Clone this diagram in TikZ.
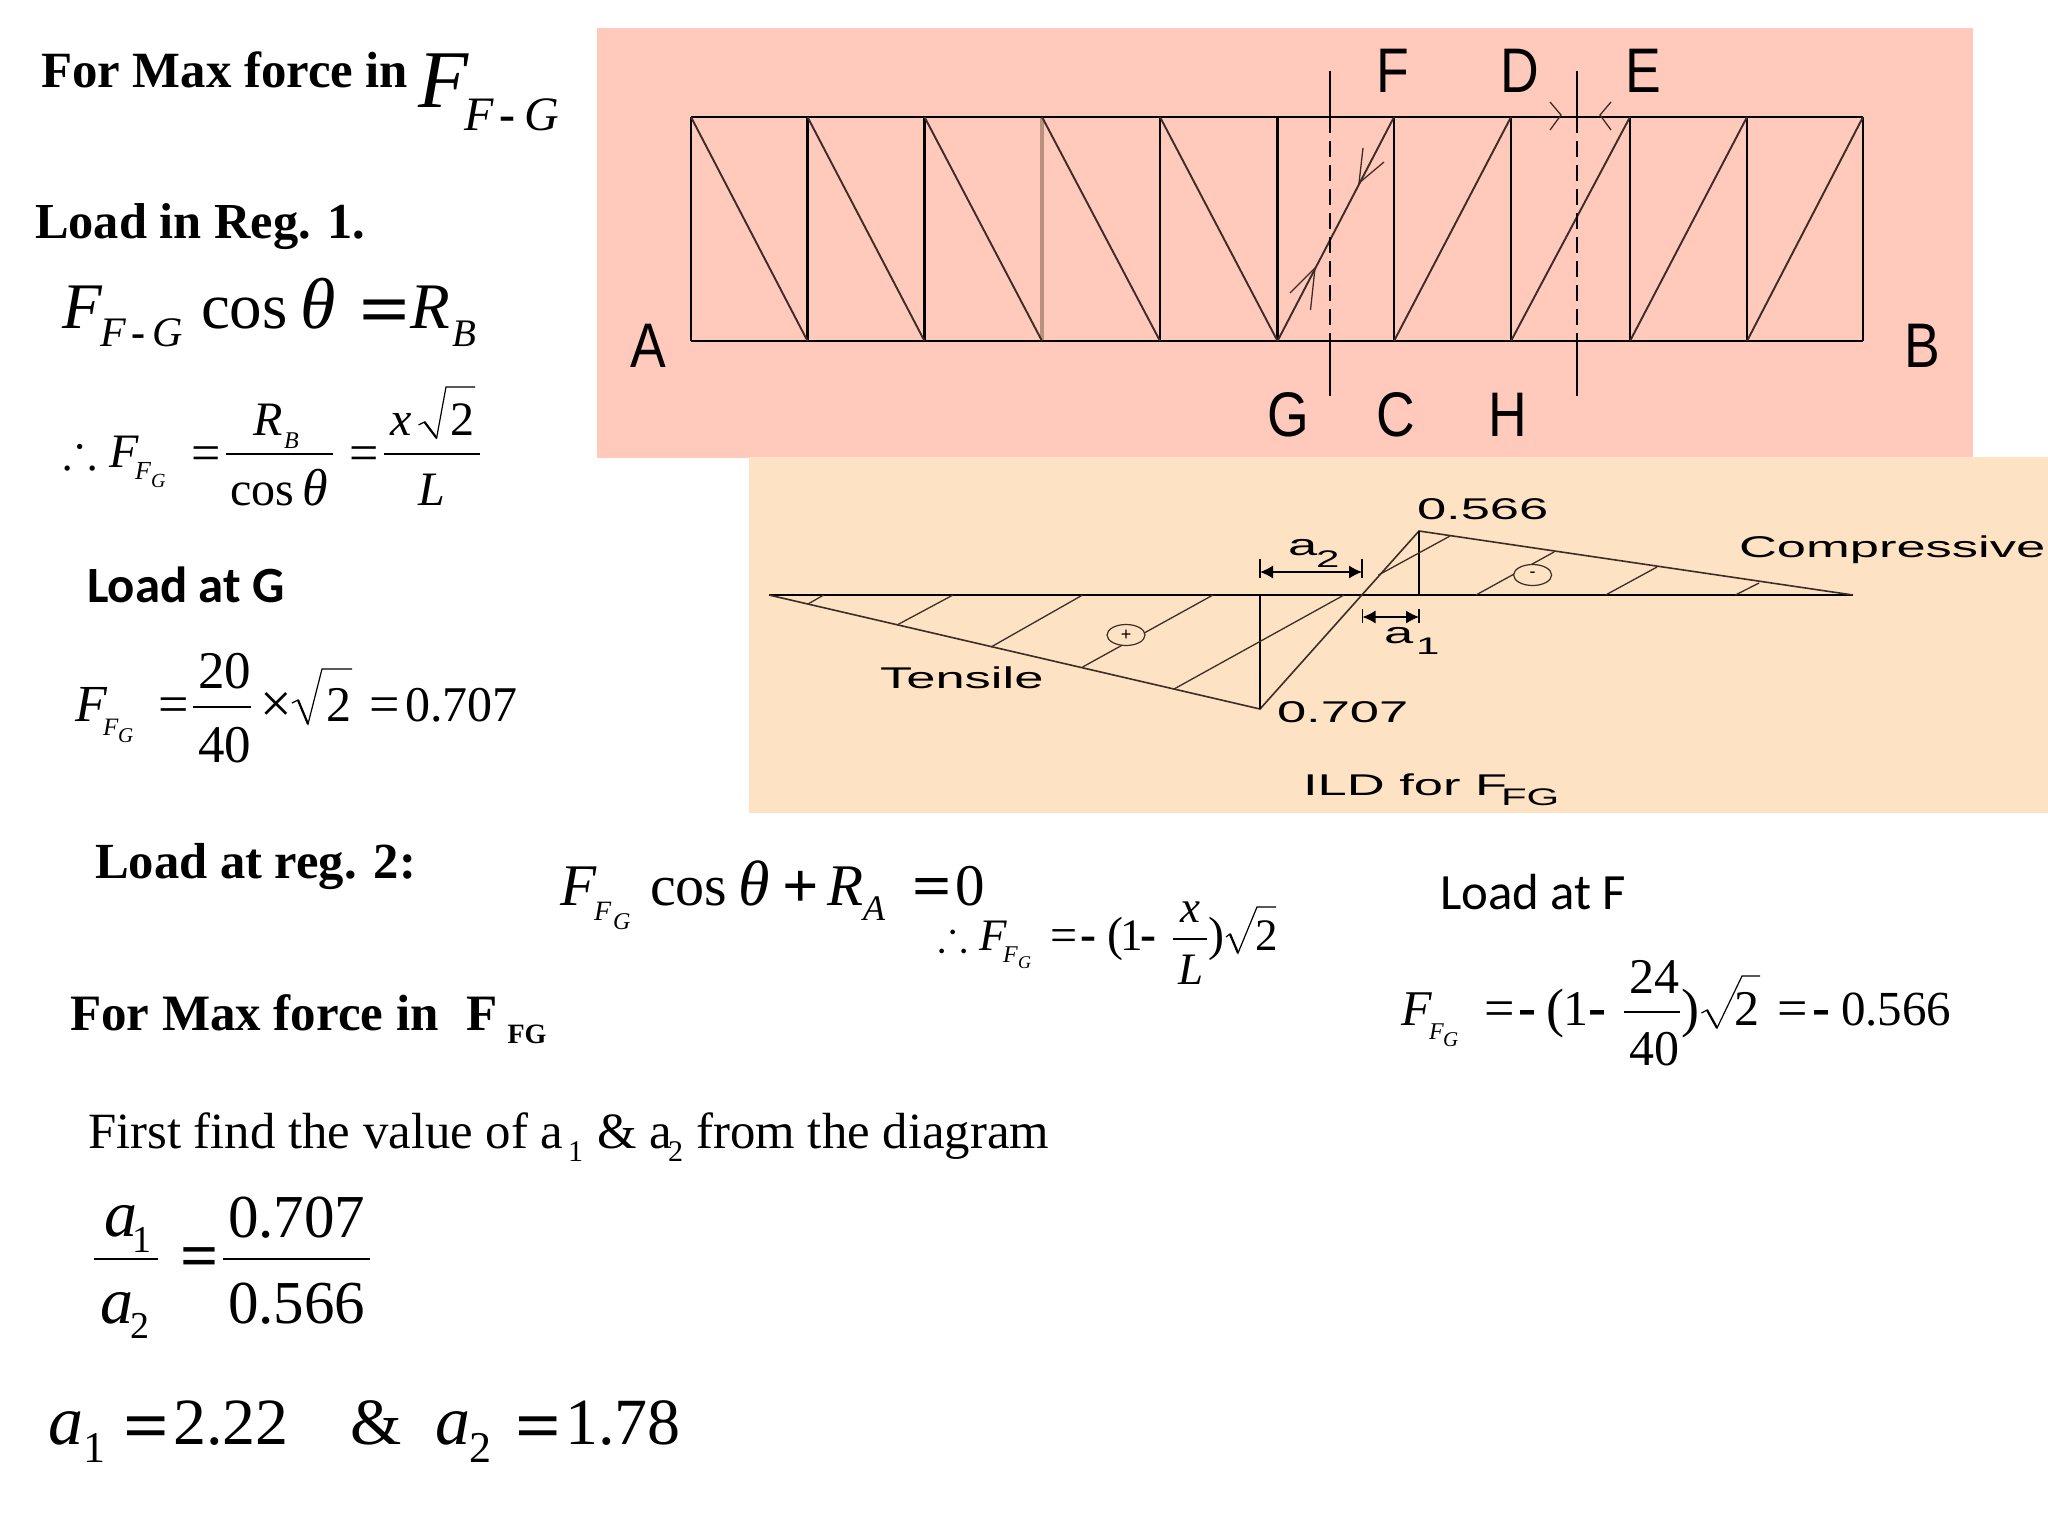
\documentclass[tikz,border=0pt]{standalone}
\usepackage{fontspec}
\usepackage{amssymb}
\setmainfont{Liberation Serif}
\newfontfamily\arialf{Liberation Sans}
\newfontfamily\califf{Carlito}
\usetikzlibrary{arrows.meta,shapes.geometric}
\definecolor{salmonbg}{RGB}{255,201,187}
\definecolor{beigebg}{RGB}{253,226,195}
\definecolor{diagline}{RGB}{60,45,40}
\definecolor{greybar}{RGB}{184,144,126}
\tikzset{
  base/.style={anchor=base west,inner sep=0pt,outer sep=0pt},
  rm/.style={base,font=\fontsize{#1pt}{#1pt}\selectfont},
  it/.style={base,font=\fontsize{#1pt}{#1pt}\selectfont\itshape},
  bf/.style={base,font=\fontsize{#1pt}{#1pt}\selectfont\bfseries},
  cal/.style={base,font=\fontsize{#1pt}{#1pt}\selectfont\califf},
  calb/.style={base,font=\fontsize{#1pt}{#1pt}\selectfont\califf\bfseries},
  letter/.style={base,font=\fontsize{31.5pt}{32pt}\selectfont\arialf},
  ildtext/.style={base,font=\fontsize{15pt}{15pt}\selectfont\arialf},
  ildsub/.style={base,font=\fontsize{12pt}{12pt}\selectfont\arialf},
  chord/.style={line width=1.4pt,black},
  post/.style={line width=1.1pt,black},
  diag/.style={line width=.95pt,diagline},
  cutline/.style={line width=.8pt,black},
  barb/.style={line width=.65pt,diagline},
  ildline/.style={line width=.8pt,diagline},
  ildpost/.style={line width=1pt,black},
  hatch/.style={line width=.65pt,diagline},
  dimline/.style={line width=.6pt,black,{Latex[length=6.5pt,width=6.5pt]}-{Latex[length=6.5pt,width=6.5pt]}},
  dimtick/.style={line width=.8pt,black},
  signmark/.style={ellipse,draw=diagline,line width=.6pt,fill=beigebg,minimum width=19pt,minimum height=10.5pt,inner sep=0pt,font=\fontsize{9pt}{9pt}\selectfont\arialf},
  fracbar/.style={line width=.8pt,black},
  surdline/.style={line width=.6pt,black,line join=miter},
  surdthick/.style={line width=1.1pt,black},
}
\newcommand{\ildw}[1]{\scalebox{1.75}[1]{#1}}
\newcommand{\narrow}[1]{\scalebox{.85}[1]{#1}}
\newcommand{\wideq}[1]{\scalebox{#1}[1]{=}}
\newcommand{\fmg}{\textit{F}\hspace{.12em}\textbf{-}\hspace{.18em}\textit{G}}
\newcommand{\radic}[5]{\draw[surdline] (#1) -- (#2) -- (#3) -- (#4) -- (#5); \draw[surdthick] (#2) -- (#3);}
\begin{document}
\begin{tikzpicture}[x=.5pt,y=-.5pt]
\useasboundingbox (0,0) rectangle (2048,1536);
\fill[white] (0,0) rectangle (2048,1536);
\fill[salmonbg] (597,28) rectangle (1973,458);
\fill[beigebg] (749,457) rectangle (2048,813);

% ---- truss
\foreach \i/\x in {0/691,1/807.5,2/924.5,3/1042,4/1160,5/1277.5,6/1394,7/1511,8/1630,9/1747,10/1863}{
  \coordinate (T\i) at (\x,117);
  \coordinate (B\i) at (\x,341);
}
\foreach \i in {0,1,2,4,5,6,7,8,9,10}{\draw[post] (T\i) -- (B\i);}
\draw[line width=1.6pt,greybar] (T3) -- (B3);
\draw[chord] (T0) -- (T10);
\draw[chord] (B0) -- (B10);
\foreach \a/\b in {0/1,1/2,2/3,3/4,4/5}{\draw[diag] (T\a) -- (B\b);}
\foreach \a/\b in {5/6,6/7,7/8,8/9,9/10}{\draw[diag] (B\a) -- (T\b);}
% sections
\coordinate (c1t) at (1330,71); \coordinate (c1a) at (1330,117);
\coordinate (c1b) at (1330,341); \coordinate (c1e) at (1330,396);
\coordinate (c2t) at (1577,71); \coordinate (c2a) at (1577,117);
\coordinate (c2b) at (1577,341); \coordinate (c2e) at (1577,396);
\draw[cutline] (c1t) -- (c1a);
\draw[cutline] (c1b) -- (c1e);
\draw[cutline,dash pattern=on 8pt off 4pt] (c1a) -- (c1b);
\draw[cutline] (c2t) -- (c2a);
\draw[cutline] (c2b) -- (c2e);
\draw[cutline,dash pattern=on 8pt off 4pt] (c2a) -- (c2b);
% member arrows
\coordinate (p1) at (1315,268); \coordinate (p1a) at (1290,293); \coordinate (p1b) at (1310.5,310);
\coordinate (p2) at (1359,183); \coordinate (p2a) at (1363,148); \coordinate (p2b) at (1384,162);
\coordinate (p3) at (1561,115); \coordinate (p3a) at (1550,102); \coordinate (p3b) at (1550,130);
\coordinate (p4) at (1600,115); \coordinate (p4a) at (1611,102); \coordinate (p4b) at (1611,130);
\draw[barb] (p1a) -- (p1) -- (p1b);
\draw[barb] (p2a) -- (p2) -- (p2b);
\draw[barb] (p3a) -- (p3) -- (p3b);
\draw[barb] (p4a) -- (p4) -- (p4b);
% truss letters
\node[letter] (la) at (630,367) {\narrow{A}};
\node[letter] (lb) at (1904,367) {\narrow{B}};
\node[letter] (lf) at (1376,92) {\narrow{F}};
\node[letter] (ld) at (1500,92) {\narrow{D}};
\node[letter] (le) at (1625,92) {\narrow{E}};
\node[letter] (lg) at (1267,436) {\narrow{G}};
\node[letter] (lc) at (1376,436) {\narrow{C}};
\node[letter] (lh) at (1488,436) {\narrow{H}};

% ---- ILD
\coordinate (i0) at (769,595); \coordinate (i1) at (1853,595);
\coordinate (low) at (1260,709); \coordinate (lowb) at (1260,595);
\coordinate (up) at (1419,531); \coordinate (upb) at (1419,595);
\draw[line width=.6pt,black] (i0) -- (i1);
\draw[ildline] (i0) -- (low) -- (up) -- (i1);
\draw[ildpost] (lowb) -- (low);
\draw[ildpost] (upb) -- (up);
\foreach \ax/\ay/\bx/\by in {823.7/595/808/604, 953/595/897/625, 1082.6/595/991/647, 1213/595/1082.6/667, 1344/595/1174/689, 1378.5/575/1450/536, 1476/595/1554/552, 1605.6/595/1657/567, 1735.4/595/1759/583}{
  \draw[hatch] (\ax,\ay) -- (\bx,\by);
}
\node[signmark] (plus) at (1126,635) {+};
\node[signmark] (minus) at (1532.6,575) {-};
% dimensions
\coordinate (a2l) at (1260,572); \coordinate (a2r) at (1362,572);
\coordinate (a1l) at (1362.5,617); \coordinate (a1r) at (1419,617);
\draw[dimline] (a2l) -- (a2r);
\draw[dimline] (a1l) -- (a1r);
\draw[dimtick] (1260,559) -- (1260,578);
\draw[dimtick] (1362,559) -- (1362,578);
\draw[dimtick] (1362.5,609) -- (1362.5,623);
\draw[dimtick] (1419,609) -- (1419,623);
\node[ildtext] (v566) at (1417,519) {\ildw{0.566}};
\node[ildtext] (v707) at (1277,722) {\ildw{0.707}};
\node[ildtext] (tens) at (880,688) {\ildw{Tensile}};
\node[ildtext] (comp) at (1739,557) {\ildw{Compressive}};
\node[ildtext] (a2a) at (1288,555) {\ildw{a}};
\node[ildsub] (a2s) at (1316,567) {\ildw{2}};
\node[ildtext] (a1a) at (1384,643) {\ildw{a}};
\node[ildsub] (a1s) at (1416,654) {\ildw{1}};
\node[ildtext] (ild) at (1303,795) {\ildw{ILD for F}};
\node[ildsub] (ilds) at (1501,805) {\ildw{FG}};

% ---- heading block
\node[bf=25.4] (h1) at (41,88) {For Max force in};
\node[it=41] (h1f) at (418,108) {F};
\node[rm=24] (h1s) at (464,130) {\fmg};
\node[bf=25.2] (h2) at (35,238) {Load in Reg. 1.};
% F cos theta = R_B
\node[it=32.5] (e1f) at (62,328) {F};
\node[rm=21] (e1s) at (100,346) {\fmg};
\node[rm=32.5] (e1c) at (201,328) {cos};
\node[it=36] (e1t) at (300,328) {θ};
\node[bf=37] (e1e) at (359,334) {\wideq{1.2}};
\node[it=32.5] (e1r) at (410,328) {R};
\node[it=19.5] (e1b) at (452,346) {B};
% therefore F_FG = R_B/cos = x sqrt2 / L
\node[rm=25] (e2th) at (63,467) {$\therefore$};
\node[it=24] (e2f) at (109,467) {F};
\node[it=13] (e2s) at (135,479) {F};
\node[it=10] (e2g) at (151,487) {G};
\node[rm=26] (e2e) at (191,470) {=};
\coordinate (e2b1) at (226,454); \coordinate (e2b2) at (333,454);
\draw[fracbar] (e2b1) -- (e2b2);
\node[it=24] (e2r) at (253,435) {R};
\node[it=12] (e2rb) at (284,448) {B};
\node[rm=24] (e2c) at (230,505) {cos};
\node[it=26] (e2t) at (302,505) {θ};
\node[rm=26] (e2e2) at (349,470) {=};
\coordinate (e2b3) at (384,454); \coordinate (e2b4) at (480,454);
\draw[fracbar] (e2b3) -- (e2b4);
\node[it=24] (e2x) at (390,435) {x};
\radic{418.5,425}{424.5,422}{436.6,438}{446,387}{475,387}
\node[rm=24] (e2two) at (450,435) {2};
\node[it=24] (e2l) at (418,505) {L};
% Load at G
\node[calb=25.4] (h3) at (87,602) {Load at G};
\node[it=26] (e3f) at (75,721) {F};
\node[it=12.5] (e3s) at (103,735) {F};
\node[it=10.5] (e3g) at (118,742) {G};
\node[rm=27] (e3e) at (158,722) {=};
\coordinate (e3b1) at (193,707); \coordinate (e3b2) at (251,707);
\draw[fracbar] (e3b1) -- (e3b2);
\node[rm=26.5] (e3n) at (198,688) {20};
\node[rm=26.5] (e3d) at (198,762) {40};
\node[rm=28] (e3x) at (260,722) {×};
\radic{292,703}{298,700}{308,724}{322,669}{352,669}
\node[rm=25] (e3two) at (326,721) {2};
\node[rm=27] (e3e2) at (369,722) {=};
\node[rm=25] (e3v) at (405,721) {0.707};
% Load at reg 2
\node[bf=25.3] (h4) at (95,878) {Load at reg. 2:};
\node[it=29.5] (e4f) at (560,905) {F};
\node[it=14] (e4s) at (594,920) {F};
\node[it=12] (e4g) at (613,929) {G};
\node[rm=29] (e4c) at (650,905) {cos};
\node[it=32] (e4t) at (738,905) {θ};
\node[bf=32] (e4p) at (782,907) {+};
\node[it=29.5] (e4r) at (827,905) {R};
\node[it=18] (e4a) at (863,920) {A};
\node[bf=30] (e4e) at (912,906) {\wideq{1.15}};
\node[rm=29.5] (e4z) at (955,905) {0};
% therefore line
\node[rm=22] (e5th) at (938,950) {$\therefore$};
\node[it=22.5] (e5f) at (979,950) {F};
\node[it=12] (e5s) at (1003,962) {F};
\node[it=9] (e5g) at (1018,968) {G};
\node[rm=24] (e5e) at (1050,951) {=};
\node[bf=24] (e5m) at (1080,950) {-};
\node[rm=24] (e5o) at (1107,950) {(};
\node[rm=22.5] (e5one) at (1120,950) {1};
\node[bf=24] (e5m2) at (1140,950) {-};
\coordinate (e5b1) at (1173,939); \coordinate (e5b2) at (1207,939);
\draw[fracbar] (e5b1) -- (e5b2);
\node[it=22.5] (e5x) at (1180,922) {x};
\node[it=22.5] (e5l) at (1178,984) {L};
\node[rm=24] (e5c) at (1208,950) {)};
\radic{1226,937}{1230,934}{1238,953}{1257,907}{1276,907}
\node[rm=22.5] (e5two) at (1255,950) {2};
% Load at F
\node[cal=25.4] (h5) at (1440,909) {Load at F};
\node[it=25] (e6f) at (1401,1025) {F};
\node[it=12] (e6s) at (1429,1039) {F};
\node[it=10.5] (e6g) at (1443,1046) {G};
\node[rm=27] (e6e) at (1484,1026) {=};
\node[bf=27] (e6m) at (1518,1025) {-};
\node[rm=27] (e6o) at (1546,1026) {(};
\node[rm=25] (e6one) at (1563,1025) {1};
\node[bf=27] (e6m2) at (1588,1025) {-};
\coordinate (e6b1) at (1624,1012); \coordinate (e6b2) at (1680,1012);
\draw[fracbar] (e6b1) -- (e6b2);
\node[rm=25] (e6n) at (1629,993) {24};
\node[rm=25] (e6d) at (1629,1065) {40};
\node[rm=27] (e6c) at (1681,1026) {)};
\radic{1701.5,1013}{1707,1010}{1717,1028}{1742,976}{1760,976}
\node[rm=25] (e6two) at (1734,1025) {2};
\node[rm=27] (e6e2) at (1777,1026) {=};
\node[bf=27] (e6m3) at (1812,1025) {-};
\node[rm=24.5] (e6v) at (1841,1025) {0.566};
% For Max force in F_FG
\node[bf=25.5] (h6) at (70,1030) {For Max force in};
\node[bf=25.5] (h6f) at (466,1030) {F};
\node[bf=14] (h6s) at (507.5,1043) {FG};
% First find
\node[rm=25.4] (h7) at (88,1148) {First find the value of a};
\node[rm=15] (h7a) at (568,1161) {1};
\node[rm=25.4] (h7b) at (597,1148) {\&};
\node[rm=25.4] (h7c) at (649,1148) {a};
\node[rm=15] (h7d) at (668,1161) {2};
\node[rm=25.4] (h7e) at (696.5,1148) {from the diagram};
% a1/a2
\coordinate (e7b1) at (94,1259); \coordinate (e7b2) at (158,1259);
\draw[line width=1pt,black] (e7b1) -- (e7b2);
\node[it=33] (e7a) at (104,1236) {a};
\node[rm=19] (e7s) at (132,1252) {1};
\node[it=33] (e7c) at (100,1323) {a};
\node[rm=19] (e7t) at (130,1338) {2};
\node[bf=32] (e7e) at (180,1277) {\wideq{1.05}};
\coordinate (e7b3) at (223,1259); \coordinate (e7b4) at (370,1259);
\draw[line width=1pt,black] (e7b3) -- (e7b4);
\node[rm=30.5] (e7n) at (228,1237) {0.707};
\node[rm=30.5] (e7d) at (228,1323) {0.566};
% a1 = 2.22 & a2 = 1.78
\node[it=35] (e8a) at (48,1444) {a};
\node[rm=22] (e8s) at (83,1462) {1};
\node[bf=35] (e8e) at (123,1449) {\wideq{1.15}};
\node[rm=33] (e8v) at (173,1444) {2.22};
\node[rm=33] (e8and) at (350,1444) {\&};
\node[it=35] (e8b) at (435,1444) {a};
\node[rm=22] (e8t) at (469,1462) {2};
\node[bf=35] (e8e2) at (515,1449) {\wideq{1.15}};
\node[rm=33] (e8w) at (565,1444) {1.78};
\end{tikzpicture}
\end{document}
